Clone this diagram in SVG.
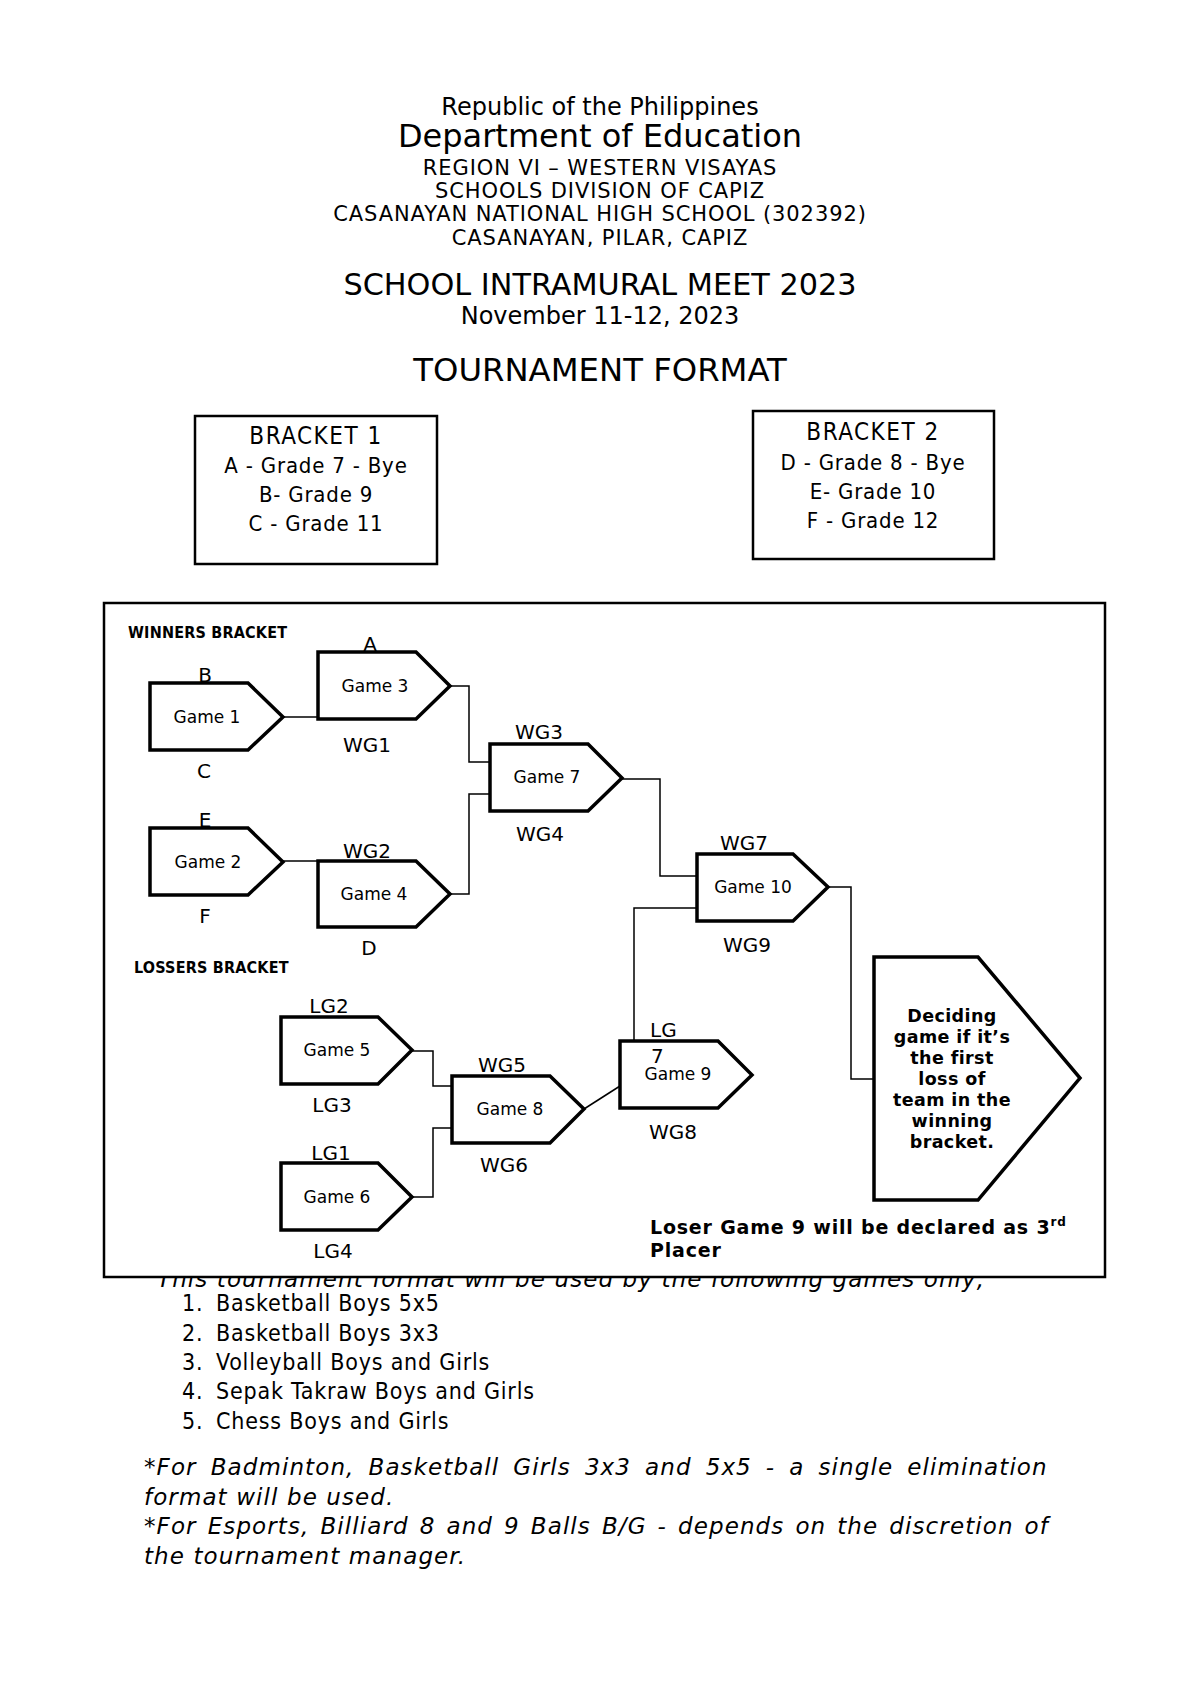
<svg xmlns="http://www.w3.org/2000/svg" width="1200" height="1696" viewBox="0 0 1200 1696">
<style>
text{font-family:"DejaVu Sans","Verdana",sans-serif;fill:#000}
.c{text-anchor:middle}
.cond{font-family:"DejaVu Sans Condensed","DejaVu Sans",sans-serif}
.hd{font-size:21px;letter-spacing:0.9px}
.bh{font-size:24px;letter-spacing:1.5px}
.bx{font-size:22px;letter-spacing:0.8px}
.g{font-size:17px}
.lb{font-size:20px}
.sec{font-family:"DejaVu Sans Condensed","DejaVu Sans",sans-serif;font-weight:bold;font-size:16px;letter-spacing:0.2px}
.dec{font-weight:bold;font-size:17.5px;letter-spacing:0.4px}
.shape{fill:#fff;stroke:#000;stroke-width:3.5;stroke-linejoin:miter}
.conn path{fill:none;stroke:#000;stroke-width:1.5}
.li{font-family:"DejaVu Sans Condensed","DejaVu Sans",sans-serif;font-size:23px;letter-spacing:0.8px}
.it{font-style:italic;font-size:23px;letter-spacing:1.1px}
</style>
<rect width="1200" height="1696" fill="#fff"/>
<g id="header">
<text class="c" x="600" y="115" font-size="24">Republic of the Philippines</text>
<text class="c" x="600" y="147" font-size="32">Department of Education</text>
<text class="c hd" x="600" y="175">REGION VI – WESTERN VISAYAS</text>
<text class="c hd" x="600" y="198">SCHOOLS DIVISION OF CAPIZ</text>
<text class="c hd" x="600" y="221">CASANAYAN NATIONAL HIGH SCHOOL (302392)</text>
<text class="c hd" x="600" y="245">CASANAYAN, PILAR, CAPIZ</text>
<text class="c" x="600" y="295" font-size="30.3">SCHOOL INTRAMURAL MEET 2023</text>
<text class="c" x="600" y="324" font-size="24">November 11-12, 2023</text>
<text class="c" x="600" y="381" font-size="32.3">TOURNAMENT FORMAT</text>
</g>
<g id="bracket1">
<rect x="195" y="416" width="242" height="148" fill="#fff" stroke="#000" stroke-width="2.5"/>
<text class="c cond bh" x="316" y="444">BRACKET 1</text>
<text class="c cond bx" x="316" y="473">A - Grade 7 - Bye</text>
<text class="c cond bx" x="316" y="502">B- Grade 9</text>
<text class="c cond bx" x="316" y="531">C - Grade 11</text>
</g>
<g id="bracket2">
<rect x="753" y="411" width="241" height="148" fill="#fff" stroke="#000" stroke-width="2.5"/>
<text class="c cond bh" x="873" y="440">BRACKET 2</text>
<text class="c cond bx" x="873" y="470">D - Grade 8 - Bye</text>
<text class="c cond bx" x="873" y="499">E- Grade 10</text>
<text class="c cond bx" x="873" y="528">F - Grade 12</text>
</g>
<g id="note-covered">
<text class="it" x="157" y="1287">This tournament format will be used by the following games only;</text>
</g>
<g id="main-frame">
<rect x="104" y="603" width="1001" height="674" fill="#fff" stroke="#000" stroke-width="2.5"/>
<text class="sec" x="128" y="638">WINNERS BRACKET</text>
<text class="sec" x="134" y="973">LOSSERS BRACKET</text>
</g>
<g class="conn" id="connectors">
<path d="M283,717 H318"/>
<path d="M283,861 H318"/>
<path d="M450,686 H469 V762 H490"/>
<path d="M450,894 H469 V794 H490"/>
<path d="M622,779 H660 V876 H697"/>
<path d="M697,908 H634 V1041"/>
<path d="M828,887 H851 V1079 H874"/>
<path d="M412,1051 H433 V1086 H452"/>
<path d="M412,1197 H433 V1128 H452"/>
<path d="M584,1109 L620,1086" stroke-width="1"/>
</g>
<g id="game1">
<path class="shape" d="M150,683 H248 L283,717 L248,750 H150 Z"/>
<text class="c g" x="207" y="723">Game 1</text>
<text class="c lb" x="205" y="682">B</text>
<text class="c lb" x="204" y="778">C</text>
</g>
<g id="game2">
<path class="shape" d="M150,828 H248 L283,862 L248,895 H150 Z"/>
<text class="c g" x="208" y="868">Game 2</text>
<text class="c lb" x="205" y="827">E</text>
<text class="c lb" x="205" y="923">F</text>
</g>
<g id="game3">
<path class="shape" d="M318,652 H416 L450,686 L416,719 H318 Z"/>
<text class="c g" x="375" y="692">Game 3</text>
<text class="c lb" x="370" y="651">A</text>
<text class="c lb" x="367" y="752">WG1</text>
</g>
<g id="game4">
<path class="shape" d="M318,861 H416 L450,894 L416,927 H318 Z"/>
<text class="c g" x="374" y="900">Game 4</text>
<text class="c lb" x="367" y="858">WG2</text>
<text class="c lb" x="369" y="955">D</text>
</g>
<g id="game7">
<path class="shape" d="M490,744 H588 L622,778 L588,811 H490 Z"/>
<text class="c g" x="547" y="783">Game 7</text>
<text class="c lb" x="539" y="739">WG3</text>
<text class="c lb" x="540" y="841">WG4</text>
</g>
<g id="game10">
<path class="shape" d="M697,854 H793 L828,887 L793,921 H697 Z"/>
<text class="c g" x="753" y="893">Game 10</text>
<text class="c lb" x="744" y="850">WG7</text>
<text class="c lb" x="747" y="952">WG9</text>
</g>
<g id="game5">
<path class="shape" d="M281,1017 H378 L412,1050 L378,1084 H281 Z"/>
<text class="c g" x="337" y="1056">Game 5</text>
<text class="c lb" x="329" y="1013">LG2</text>
<text class="c lb" x="332" y="1112">LG3</text>
</g>
<g id="game6">
<path class="shape" d="M281,1163 H378 L412,1197 L378,1230 H281 Z"/>
<text class="c g" x="337" y="1203">Game 6</text>
<text class="c lb" x="331" y="1160">LG1</text>
<text class="c lb" x="333" y="1258">LG4</text>
</g>
<g id="game8">
<path class="shape" d="M452,1076 H550 L584,1109 L550,1143 H452 Z"/>
<text class="c g" x="510" y="1115">Game 8</text>
<text class="c lb" x="502" y="1072">WG5</text>
<text class="c lb" x="504" y="1172">WG6</text>
</g>
<g id="game9">
<path class="shape" d="M620,1041 H718 L752,1075 L718,1108 H620 Z"/>
<text class="c g" x="678" y="1080">Game 9</text>
<text class="lb" x="650" y="1037">LG</text>
<text class="lb" x="651" y="1063">7</text>
<text class="c lb" x="673" y="1139">WG8</text>
</g>
<g id="deciding">
<path class="shape" d="M874,957 H978 L1080,1078 L978,1200 H874 Z"/>
<text class="c dec" x="952" y="1022">Deciding</text>
<text class="c dec" x="952" y="1043">game if it’s</text>
<text class="c dec" x="952" y="1064">the first</text>
<text class="c dec" x="952" y="1085">loss of</text>
<text class="c dec" x="952" y="1106">team in the</text>
<text class="c dec" x="952" y="1127">winning</text>
<text class="c dec" x="952" y="1148">bracket.</text>
</g>
<g id="third-place-note">
<text x="650" y="1234" font-weight="bold" font-size="19" letter-spacing="0.8">Loser Game 9 will be declared as 3<tspan font-size="12" dy="-8">rd</tspan></text>
<text x="650" y="1257" font-weight="bold" font-size="19" letter-spacing="0.8">Placer</text>
</g>
<g id="list">
<text class="li" x="182" y="1311">1.</text><text class="li" x="216" y="1311">Basketball Boys 5x5</text>
<text class="li" x="182" y="1341">2.</text><text class="li" x="216" y="1341">Basketball Boys 3x3</text>
<text class="li" x="182" y="1370">3.</text><text class="li" x="216" y="1370">Volleyball Boys and Girls</text>
<text class="li" x="182" y="1399">4.</text><text class="li" x="216" y="1399">Sepak Takraw Boys and Girls</text>
<text class="li" x="182" y="1429">5.</text><text class="li" x="216" y="1429">Chess Boys and Girls</text>
</g>
<g id="notes">
<text class="it" x="144" y="1475" word-spacing="5.6">*For Badminton, Basketball Girls 3x3 and 5x5 - a single elimination</text>
<text class="it" x="144" y="1505">format will be used.</text>
<text class="it" x="144" y="1534" word-spacing="2.6">*For Esports, Billiard 8 and 9 Balls B/G - depends on the discretion of</text>
<text class="it" x="144" y="1564">the tournament manager.</text>
</g>
</svg>
